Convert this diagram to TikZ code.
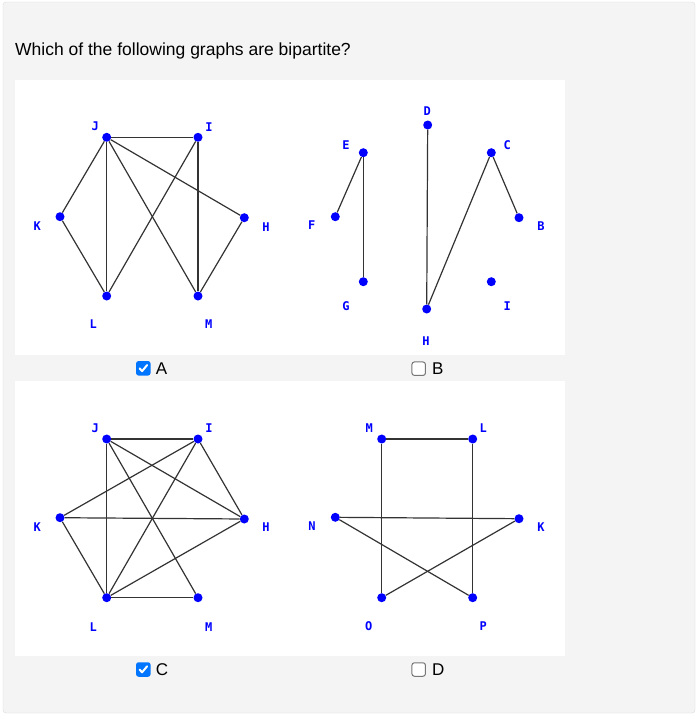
\documentclass[tikz,border=0pt]{standalone}
\usepackage{fontspec}
\setmainfont{Liberation Sans}
\newfontfamily\lblfont{DejaVu Sans Mono}
\usetikzlibrary{positioning}

\definecolor{pagegray}{HTML}{F4F4F4}
\definecolor{rulegray}{HTML}{DCDCDC}
\definecolor{tickblue}{HTML}{0075FF}
\definecolor{boxgray}{HTML}{767676}

\begin{document}
\begin{tikzpicture}[x=1pt,y=-1pt,
    vtx/.style={circle,fill=blue,inner sep=0pt,minimum size=9pt},
    lbl/.style={text=blue,inner sep=0pt,font=\lblfont\bfseries\fontsize{12}{12}\selectfont},
    edge/.style={draw=black!80,line width=1.2pt},
    ticked/.style={rounded corners=2.5pt,fill=tickblue,minimum size=14.5pt,inner sep=0pt},
    unticked/.style={rounded corners=2.5pt,draw=boxgray,fill=white,line width=1pt,minimum size=13.5pt,inner sep=0pt},
    choice/.style={inner sep=0pt,font=\fontsize{17}{20}\selectfont}]
  \useasboundingbox (0,0) rectangle (698,726);
  \fill[white] (0,0) rectangle (698,726);
  \draw[rulegray,fill=pagegray,rounded corners=3pt] (3,2) rectangle (695,713);

  \node[anchor=base west,inner sep=0pt,font=\fontsize{17.5}{20}\selectfont] (title) at (15,55)
    {Which of the following graphs are bipartite?};

  % panels
  \fill[white] (15,80) rectangle (565,355);
  \fill[white] (15,381) rectangle (565,655.5);

  % graph A
  \node[vtx] (AJ) at (106.7,137.3) {};
  \node[vtx] (AI) at (198,137.3) {};
  \node[vtx] (AK) at (60,216.7) {};
  \node[vtx] (AH) at (244.3,217.7) {};
  \node[vtx] (AL) at (106.7,296) {};
  \node[vtx] (AM) at (198,296) {};
  \node[lbl] (AJl) at (95.3,126.7) {J};
  \node[lbl] (AIl) at (209,126.7) {I};
  \node[lbl] (AKl) at (37.3,225.7) {K};
  \node[lbl] (AHl) at (266,226.7) {H};
  \node[lbl] (ALl) at (93.3,324.3) {L};
  \node[lbl] (AMl) at (208.7,324.3) {M};
  \foreach \a/\b in {AJ/AI,AJ/AK,AJ/AL,AJ/AM,AJ/AH,AI/AL,AI/AM,AK/AL,AH/AM}
    \draw[edge] (\a) -- (\b);

  % graph B
  \node[vtx] (BD) at (427.7,125) {};
  \node[vtx] (BE) at (363.3,152.7) {};
  \node[vtx] (BC) at (491.3,152.7) {};
  \node[vtx] (BF) at (335.3,216.7) {};
  \node[vtx] (BB) at (519,217.7) {};
  \node[vtx] (BG) at (363.3,281.7) {};
  \node[vtx] (BI) at (491.3,281.7) {};
  \node[vtx] (BH) at (426.7,309) {};
  \node[lbl] (BDl) at (427.3,111) {D};
  \node[lbl] (BEl) at (346,145) {E};
  \node[lbl] (BCl) at (507.3,145) {C};
  \node[lbl] (BFl) at (311.7,225) {F};
  \node[lbl] (BBl) at (541,226) {B};
  \node[lbl] (BGl) at (346,306) {G};
  \node[lbl] (BIl) at (507.3,306) {I};
  \node[lbl] (BHl) at (426,340.7) {H};
  \foreach \a/\b in {BE/BF,BE/BG,BD/BH,BH/BC,BC/BB}
    \draw[edge] (\a) -- (\b);

  % graph C
  \node[vtx] (CJ) at (106.7,439) {};
  \node[vtx] (CI) at (198,439) {};
  \node[vtx] (CK) at (60,517.7) {};
  \node[vtx] (CH) at (244.3,519) {};
  \node[vtx] (CL) at (106.7,597.7) {};
  \node[vtx] (CM) at (198,597.7) {};
  \node[lbl] (CJl) at (95.3,428.3) {J};
  \node[lbl] (CIl) at (209,428.3) {I};
  \node[lbl] (CKl) at (37.3,526.7) {K};
  \node[lbl] (CHl) at (266,527.3) {H};
  \node[lbl] (CLl) at (93.3,626.7) {L};
  \node[lbl] (CMl) at (208.7,626.7) {M};
  \foreach \a/\b in {CJ/CI,CJ/CL,CJ/CH,CJ/CM,CI/CK,CI/CL,CI/CH,CK/CH,CK/CL,CL/CH,CL/CM}
    \draw[edge] (\a) -- (\b);

  % graph D
  \node[vtx] (DM) at (381.7,439) {};
  \node[vtx] (DL) at (472.7,439) {};
  \node[vtx] (DN) at (335.3,517.3) {};
  \node[vtx] (DK) at (519,518.7) {};
  \node[vtx] (DO) at (381.7,597.7) {};
  \node[vtx] (DP) at (472.7,597.7) {};
  \node[lbl] (DMl) at (369.3,428.3) {M};
  \node[lbl] (DLl) at (483.3,428.3) {L};
  \node[lbl] (DNl) at (312,526) {N};
  \node[lbl] (DKl) at (541,527.3) {K};
  \node[lbl] (DOl) at (368.7,626) {O};
  \node[lbl] (DPl) at (483.3,626) {P};
  \foreach \a/\b in {DM/DL,DM/DO,DL/DP,DN/DK,DN/DP,DK/DO}
    \draw[edge] (\a) -- (\b);

  % answer boxes
  \node[ticked] (cbA) at (143.3,368.3) {};
  \node[choice,anchor=west,right=5pt of cbA] (tA) {A};
  \draw[white,line width=2pt,line cap=round,line join=round]
    ([shift={(-3.8,0)}]cbA.center) -- ([shift={(-1.2,2.8)}]cbA.center) -- ([shift={(3.8,-3.2)}]cbA.center);
  \node[unticked] (cbB) at (418.7,368.7) {};
  \node[choice,anchor=west,right=6pt of cbB] (tB) {B};
  \node[ticked] (cbC) at (143.3,669.5) {};
  \node[choice,anchor=west,right=5pt of cbC] (tC) {C};
  \draw[white,line width=2pt,line cap=round,line join=round]
    ([shift={(-3.8,0)}]cbC.center) -- ([shift={(-1.2,2.8)}]cbC.center) -- ([shift={(3.8,-3.2)}]cbC.center);
  \node[unticked] (cbD) at (418.7,669.5) {};
  \node[choice,anchor=west,right=6pt of cbD] (tD) {D};
\end{tikzpicture}
\end{document}
